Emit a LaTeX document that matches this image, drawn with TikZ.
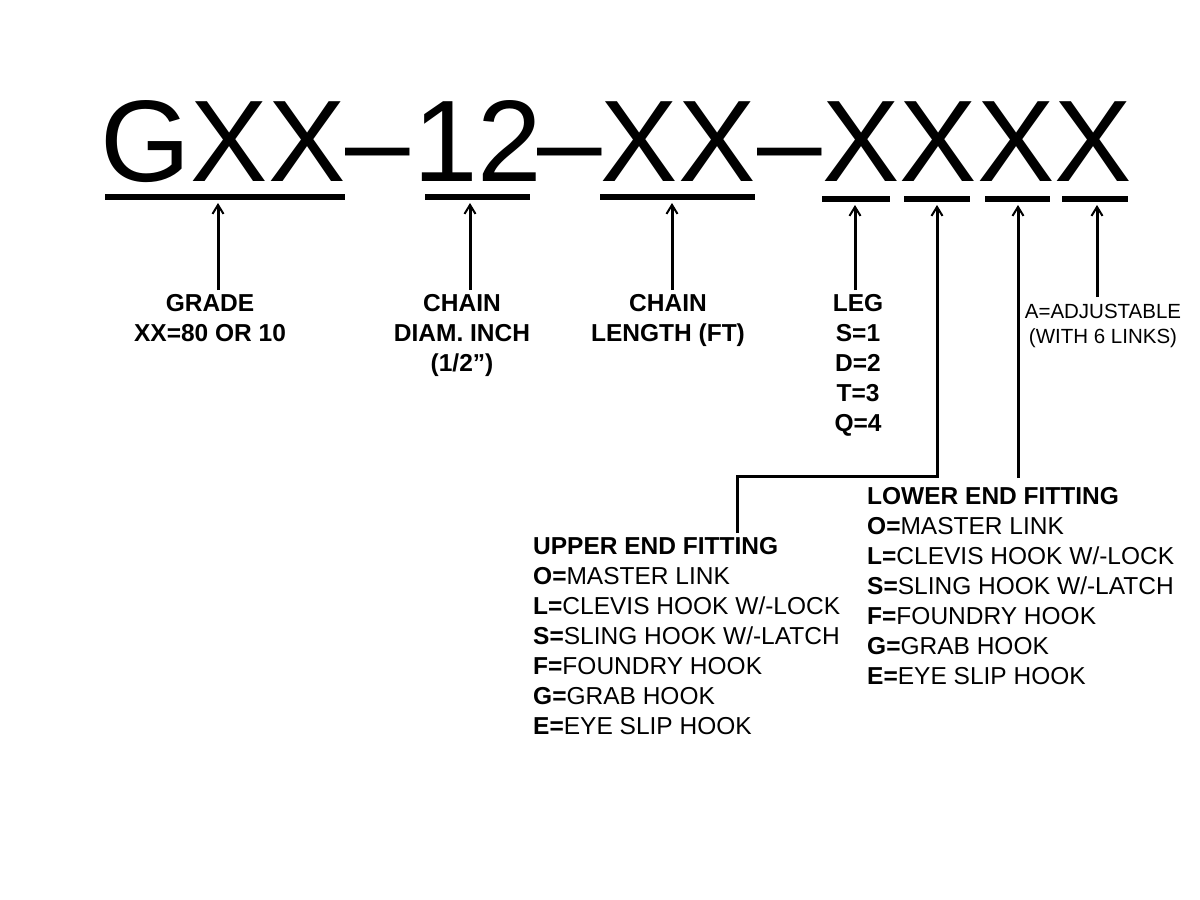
\documentclass[tikz,border=0pt]{standalone}
\usepackage{fontspec}
\setmainfont{Liberation Sans}
\usetikzlibrary{arrows.meta}
\begin{document}
\begin{tikzpicture}[x=1pt,y=-1pt,
 big/.style={font=\fontsize{116}{116}\selectfont,inner sep=0pt,anchor=base},
 ul/.style={line width=6pt},
 arr/.style={line width=3pt,-{Straight Barb[length=9pt,width=11pt,line width=2pt]}},
 lbl/.style={font=\fontsize{24.5}{30}\selectfont\bfseries,align=center,anchor=north,inner sep=0pt},
 lst/.style={font=\fontsize{24.5}{30}\selectfont,align=left,anchor=north west,inner sep=0pt}]
\useasboundingbox (0,0) rectangle (1200,900);
\node[big] (t1) at (223,181) {GXX};
\node[big] (d1) at (378,181) {–};
\node[big] (t2) at (478,181) {12};
\node[big] (d2) at (570,181) {–};
\node[big] (t3) at (678,181) {XX};
\node[big] (d3) at (790,181) {–};
\node[big] (t4) at (977,181) {XXXX};
\draw[ul] (105,197) -- (345,197);
\draw[ul] (425,197) -- (530,197);
\draw[ul] (600,197) -- (755,197);
\draw[ul] (822,199) -- (890,199);
\draw[ul] (904,199) -- (970,199);
\draw[ul] (985,199) -- (1050,199);
\draw[ul] (1062,199) -- (1128,199);
\coordinate (u1) at (218,203); \coordinate (u2) at (470,203);
\coordinate (u3) at (672,203); \coordinate (u4) at (855,205);
\coordinate (u5) at (937,205); \coordinate (u6) at (1018,205);
\coordinate (u7) at (1097,205);
\node[lbl] (g) at (210,294) {GRADE\\XX=80 OR 10};
\node[lbl] (c) at (462,294) {CHAIN\\DIAM. INCH\\(1/2”)};
\node[lbl] (l) at (668,294) {CHAIN\\LENGTH (FT)};
\node[lbl] (leg) at (858,294) {LEG\\S=1\\D=2\\T=3\\Q=4};
\node[font=\fontsize{20.5}{25}\selectfont,align=center,anchor=north,inner sep=0pt] (a) at (1103,304) {A=ADJUSTABLE\\(WITH 6 LINKS)};
\draw[arr] (218,290) -- (u1);
\draw[arr] (470,290) -- (u2);
\draw[arr] (672,290) -- (u3);
\draw[arr] (855,290) -- (u4);
\draw[arr] (1097,297) -- (u7);
\node[lst] (up) at (533,537) {\textbf{UPPER END FITTING}\\\textbf{O=}MASTER LINK\\\textbf{L=}CLEVIS HOOK W/-LOCK\\\textbf{S=}SLING HOOK W/-LATCH\\\textbf{F=}FOUNDRY HOOK\\\textbf{G=}GRAB HOOK\\\textbf{E=}EYE SLIP HOOK};
\node[lst] (lo) at (867,487) {\textbf{LOWER END FITTING}\\\textbf{O=}MASTER LINK\\\textbf{L=}CLEVIS HOOK W/-LOCK\\\textbf{S=}SLING HOOK W/-LATCH\\\textbf{F=}FOUNDRY HOOK\\\textbf{G=}GRAB HOOK\\\textbf{E=}EYE SLIP HOOK};
\draw[arr] (737,533) |- (937,476) -- (u5);
\draw[arr] (1018,478) -- (u6);
\end{tikzpicture}
\end{document}
